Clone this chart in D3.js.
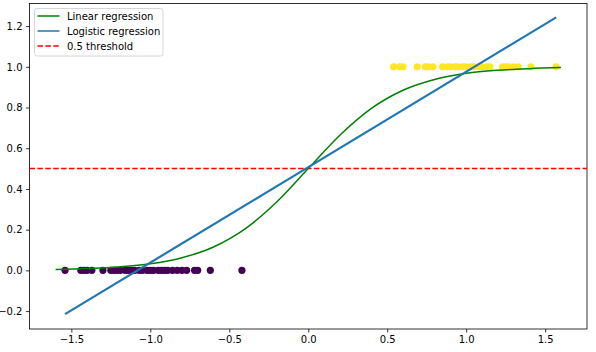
<!DOCTYPE html>
<html>
<head>
<meta charset="utf-8">
<script src="https://cdn.jsdelivr.net/npm/d3@7"></script>
<style>
  body { margin: 0; background: #fff; }
  text { font-family: "DejaVu Sans", sans-serif; }
  .axis text { font-size: 10px; fill: #000; }
  .axis path, .axis line { stroke: #000; stroke-width: 0.8; }
</style>
</head>
<body>
<div id="chart"></div>
<script>
// class 0 points (y = 0)
const class0X = [-1.54, -1.44, -1.42, -1.40, -1.37, -1.30, -1.25, -1.23, -1.21, -1.19,
  -1.16, -1.14, -1.12, -1.10, -1.07, -1.05, -1.02, -1.00, -0.98, -0.95,
  -0.93, -0.91, -0.89, -0.86, -0.83, -0.80, -0.77, -0.72, -0.70, -0.62, -0.42];
// class 1 points (y = 1)
const class1X = [0.54, 0.58, 0.60, 0.69, 0.74, 0.76, 0.79, 0.85, 0.88, 0.90,
  0.93, 0.95, 0.98, 1.00, 1.03, 1.05, 1.08, 1.10, 1.13, 1.15,
  1.23, 1.25, 1.27, 1.30, 1.33, 1.41, 1.57];

// green curve
const curveX = [-1.6, -1.4, -1.2, -1.0, -0.8, -0.6, -0.4, -0.2, 0.0, 0.2, 0.4, 0.6, 0.8, 1.0, 1.2, 1.4, 1.6];
const curveY = [0.004, 0.009, 0.017, 0.032, 0.062, 0.115, 0.204, 0.336, 0.5, 0.664, 0.796, 0.885, 0.938, 0.968, 0.983, 0.991, 0.996];

// blue straight line end points
const lineX = [-1.54, 1.57];
const lineY = [-0.215, 1.243];

const threshold = 0.5;
const xTicks = [-1.5, -1.0, -0.5, 0.0, 0.5, 1.0, 1.5];
const yTicks = [-0.2, 0.0, 0.2, 0.4, 0.6, 0.8, 1.0, 1.2];
const legendLabels = ['Linear regression', 'Logistic regression', '0.5 threshold'];

// sizes
const W = 596, H = 352;
const margin = {top: 3.5, right: 9, bottom: 23, left: 29.5};
const width = W - margin.left - margin.right,
      height = H - margin.top - margin.bottom;

const svg = d3.select('#chart').append('svg')
    .attr('width', W)
    .attr('height', H)
  .append('g')
    .attr('transform', `translate(${margin.left},${margin.top})`);

const x = d3.scaleLinear().domain([-1.765, 1.765]).range([0, width]);
const y = d3.scaleLinear().domain([-0.288, 1.311]).range([height, 0]);

const fmt = d3.format('.1f');

// axes
svg.append('g')
  .attr('class', 'axis')
  .attr('transform', `translate(0,${height})`)
  .call(d3.axisBottom(x).tickValues(xTicks).tickFormat(fmt).tickSize(3.5).tickPadding(3.5))
  .select('.domain').remove();

svg.append('g')
  .attr('class', 'axis')
  .call(d3.axisLeft(y).tickValues(yTicks).tickFormat(fmt).tickSize(3.5).tickPadding(3.5))
  .select('.domain').remove();

// frame
svg.append('rect')
  .attr('width', width).attr('height', height)
  .attr('fill', 'none').attr('stroke', '#000').attr('stroke-width', 0.8);

// threshold
svg.append('line')
  .attr('x1', 0).attr('x2', width)
  .attr('y1', y(threshold)).attr('y2', y(threshold))
  .attr('stroke', '#ff0000').attr('stroke-width', 1.5)
  .attr('stroke-dasharray', '5.5,2.4');

// points
const pts = class0X.map(v => ({x: v, y: 0, c: '#440154'}))
  .concat(class1X.map(v => ({x: v, y: 1, c: '#fde725'})));
svg.selectAll('.pt')
  .data(pts)
  .enter()
  .append('circle')
  .attr('class', 'pt')
  .attr('cx', d => x(d.x))
  .attr('cy', d => y(d.y))
  .attr('r', 3.6)
  .attr('fill', d => d.c);

// green curve
const curveData = curveX.map((v, i) => [v, curveY[i]]);
svg.append('path')
  .datum(curveData)
  .attr('fill', 'none')
  .attr('stroke', '#008000')
  .attr('stroke-width', 1.5)
  .attr('d', d3.line().x(d => x(d[0])).y(d => y(d[1])).curve(d3.curveMonotoneX));

// blue line
const lineData = lineX.map((v, i) => [v, lineY[i]]);
svg.append('path')
  .datum(lineData)
  .attr('fill', 'none')
  .attr('stroke', '#1f77b4')
  .attr('stroke-width', 2.2)
  .attr('d', d3.line().x(d => x(d[0])).y(d => y(d[1])));

// legend
const legend = svg.append('g').attr('transform', 'translate(5,5)');
legend.append('rect')
  .attr('width', 128.5).attr('height', 47.5)
  .attr('rx', 2.5)
  .attr('fill', 'rgba(255,255,255,0.8)')
  .attr('stroke', '#cccccc').attr('stroke-width', 0.8);

const legendColors = ['#008000', '#1f77b4', '#ff0000'];
legendLabels.forEach((lbl, i) => {
  const ly = 7.5 + i * 15;
  legend.append('line')
    .attr('x1', 3).attr('x2', 25)
    .attr('y1', ly).attr('y2', ly)
    .attr('stroke', legendColors[i])
    .attr('stroke-width', 1.5)
    .attr('stroke-dasharray', i === 2 ? '5.5,2.4' : null);
  legend.append('text')
    .attr('x', 32.5).attr('y', ly + 3.5)
    .attr('font-size', '10px')
    .attr('fill', '#000')
    .text(lbl);
});
</script>
</body>
</html>
